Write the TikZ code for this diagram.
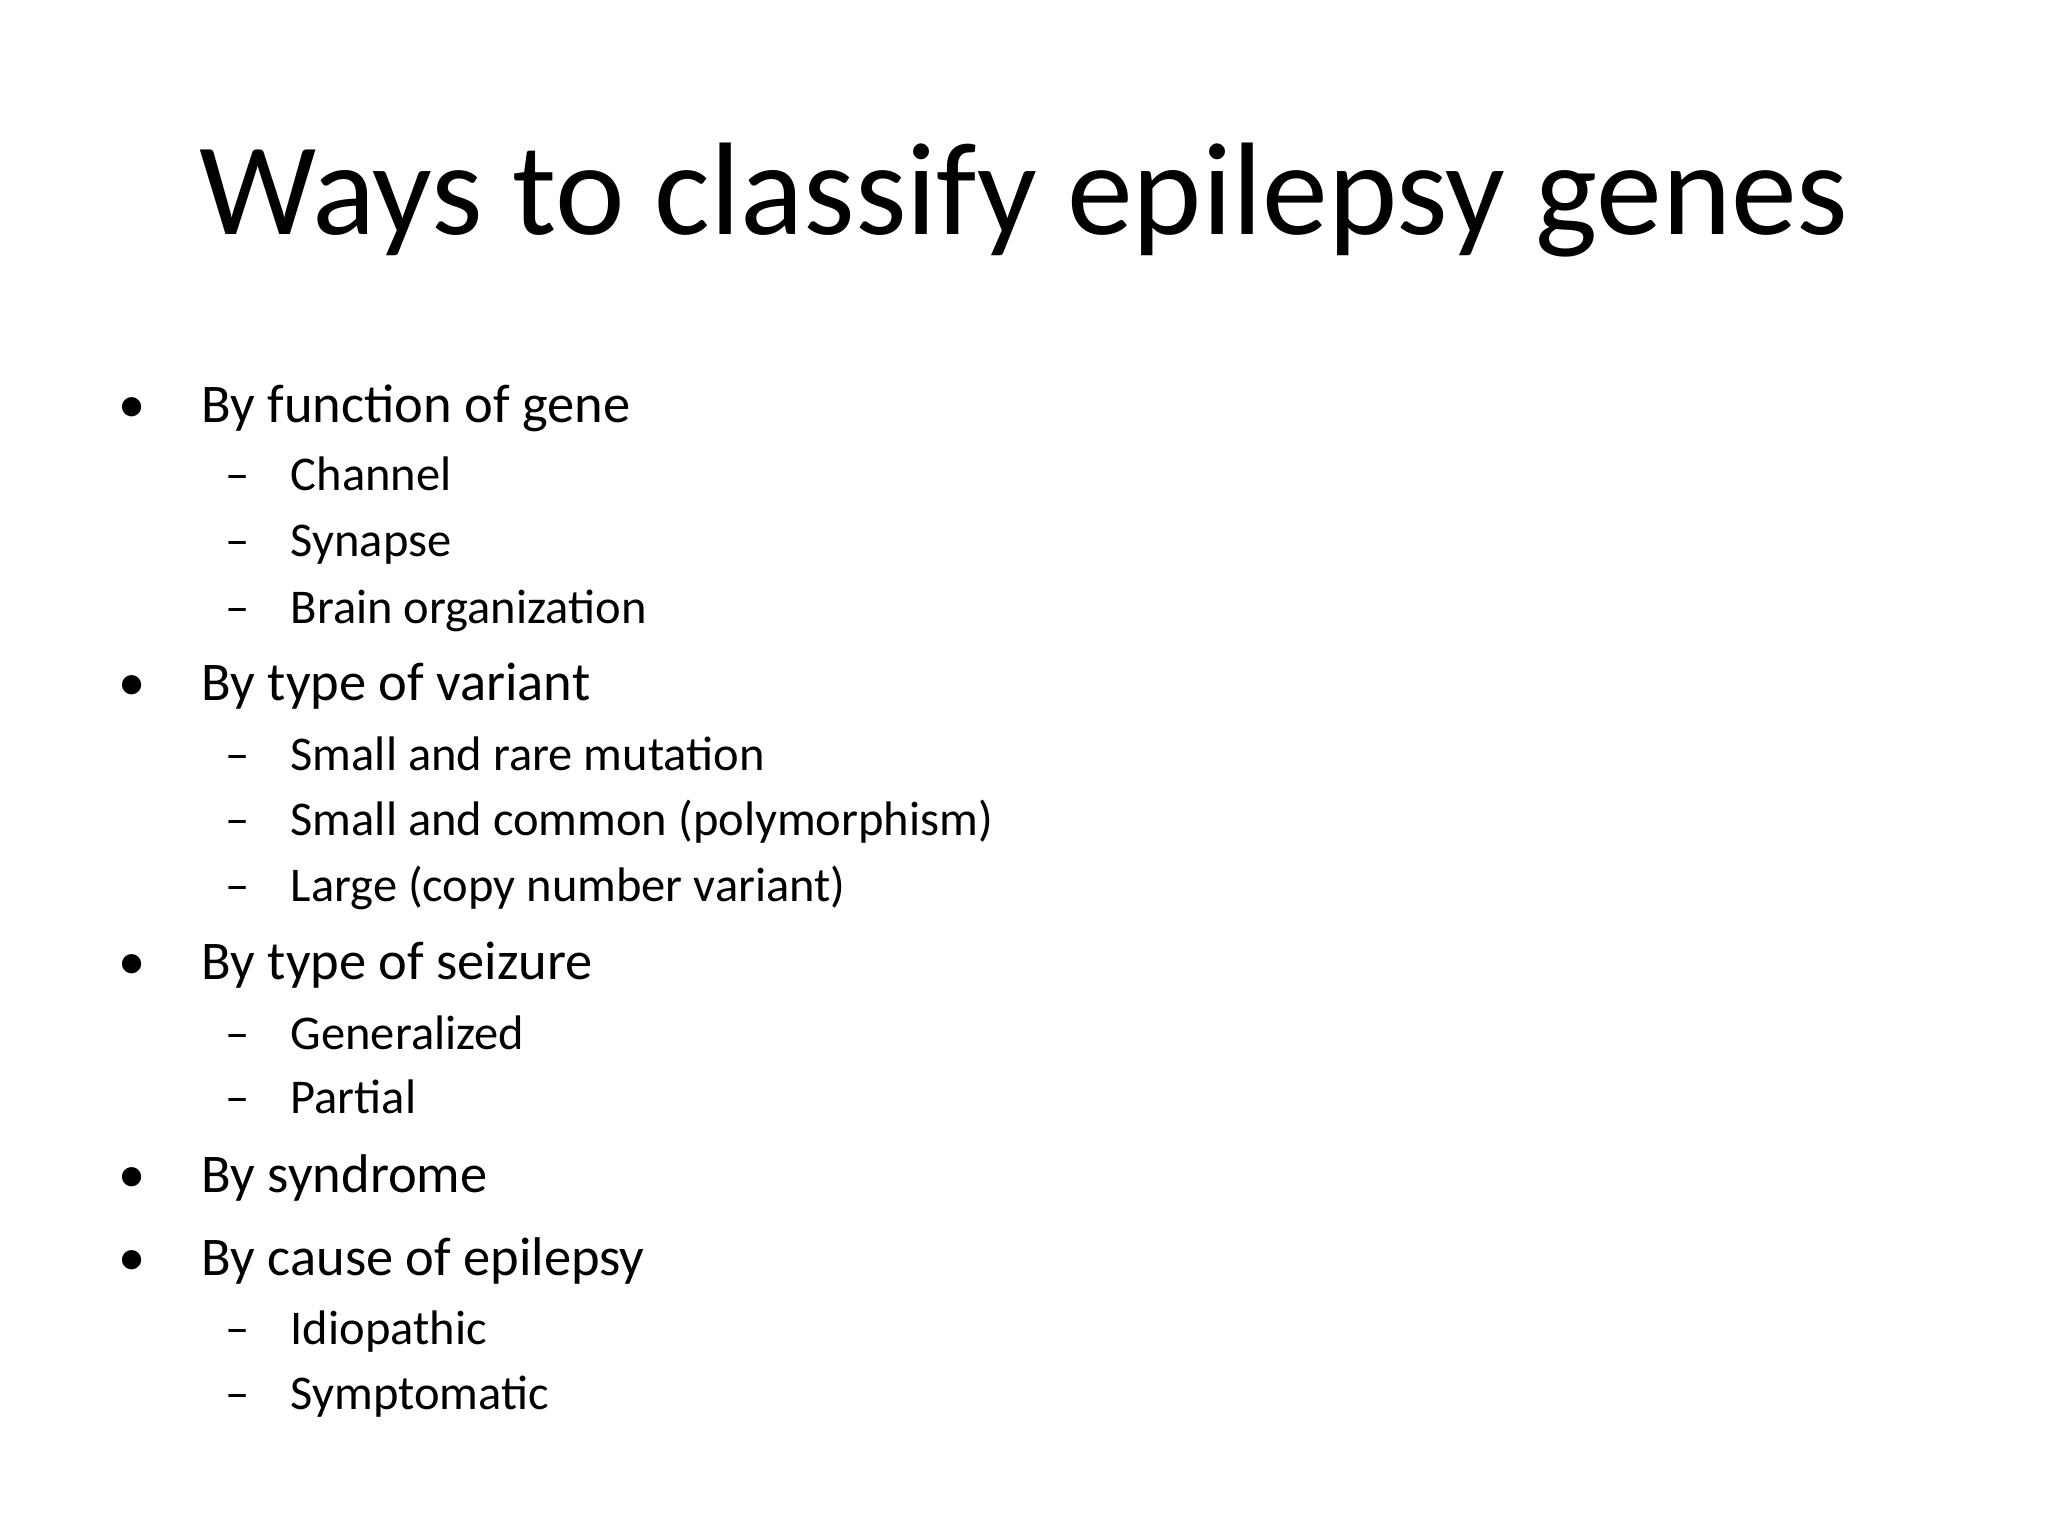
\documentclass[tikz,border=0pt]{standalone}
\usepackage{fontspec}
\setmainfont{Carlito}
\usetikzlibrary{positioning}
\tikzstyle{every node}+=[inner sep=0pt]
\tikzstyle{title} = [font=\fontsize{37.5}{40}\selectfont, anchor=base]
\tikzstyle{item} = [font=\fontsize{15.5}{18}\selectfont, anchor=base west]
\tikzstyle{sub} = [font=\fontsize{13.8}{16}\selectfont, anchor=base west]
\tikzstyle{dot} = [font=\fontsize{15.5}{18}\selectfont, anchor=base]
\tikzstyle{dashmark} = [font=\fontsize{13.8}{16}\selectfont, anchor=base]

\begin{document}
\begin{tikzpicture}
            \useasboundingbox (0,0) rectangle (20.48,-15.36);
            % Title
            \node [title] (head) at (10.24,-2.35) {Ways to classify epilepsy genes};
            % Bullets
            \foreach \y/\t [count=\i] in {4.22/By function of gene, 7.01/By type of variant,
                9.795/By type of seizure, 11.92/By syndrome, 12.75/By cause of epilepsy} {
              \node [dot] (b\i) at (1.32,-\y) {•};
              \node [item] (t\i) at (2.01,-\y) {\t};
            }
            % Sub items
            \foreach \y/\t [count=\i] in {4.91/Channel, 5.57/Synapse, 6.23/Brain organization,
                7.705/Small and rare mutation, 8.36/Small and common (polymorphism),
                9.01/Large (copy number variant), 10.49/Generalized, 11.14/Partial,
                13.44/Idiopathic, 14.09/Symptomatic} {
              \node [dashmark] (d\i) at (2.38,-\y) {–};
              \node [sub] (s\i) at (2.90,-\y) {\t};
            }
          \end{tikzpicture}
\end{document}
